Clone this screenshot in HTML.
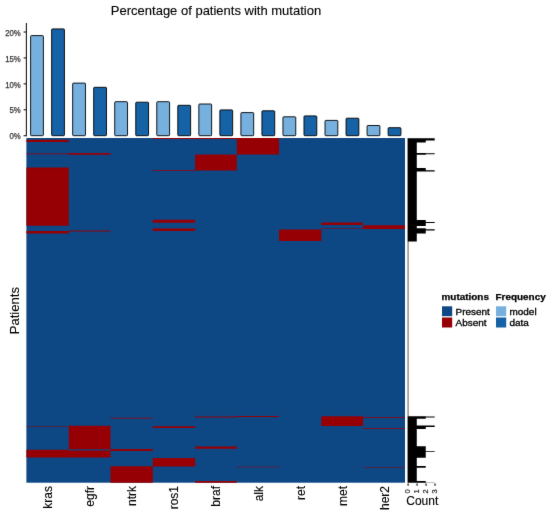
<!DOCTYPE html><html><head><meta charset="utf-8"><title>Percentage of patients with mutation</title>
<style>html,body{margin:0;padding:0;background:#fff;}svg{display:block;}text{font-family:"Liberation Sans",Arial,sans-serif;}</style></head><body>
<svg width="550" height="514" viewBox="0 0 550 514">
<defs><filter id="soft" x="0" y="0" width="550" height="514" filterUnits="userSpaceOnUse" color-interpolation-filters="sRGB"><feConvolveMatrix order="3" kernelMatrix="0.00524 0.06192 0.00524 0.06192 0.73137 0.06192 0.00524 0.06192 0.00524" edgeMode="duplicate"/></filter></defs>
<g filter="url(#soft)">
<rect x="0" y="0" width="550" height="514" fill="#fff"/>
<text x="216" y="15.3" font-size="13" text-anchor="middle" fill="#000" stroke="#000" stroke-width="0.12">Percentage of patients with mutation</text>
<g stroke="#1a1a1a" stroke-width="1.1" fill="none">
<line x1="26.4" y1="23" x2="26.4" y2="136.2"/>
<line x1="23.6" y1="135.70" x2="26.4" y2="135.70"/>
<line x1="23.6" y1="109.78" x2="26.4" y2="109.78"/>
<line x1="23.6" y1="83.86" x2="26.4" y2="83.86"/>
<line x1="23.6" y1="57.94" x2="26.4" y2="57.94"/>
<line x1="23.6" y1="32.02" x2="26.4" y2="32.02"/>
</g>
<text x="20.8" y="139.40" font-size="9" text-anchor="end" fill="#333" stroke="#333" stroke-width="0.25" textLength="11.3" lengthAdjust="spacingAndGlyphs">0%</text>
<text x="20.8" y="113.48" font-size="9" text-anchor="end" fill="#333" stroke="#333" stroke-width="0.25" textLength="11.3" lengthAdjust="spacingAndGlyphs">5%</text>
<text x="20.8" y="87.56" font-size="9" text-anchor="end" fill="#333" stroke="#333" stroke-width="0.25" textLength="15.6" lengthAdjust="spacingAndGlyphs">10%</text>
<text x="20.8" y="61.64" font-size="9" text-anchor="end" fill="#333" stroke="#333" stroke-width="0.25" textLength="15.6" lengthAdjust="spacingAndGlyphs">15%</text>
<text x="20.8" y="35.72" font-size="9" text-anchor="end" fill="#333" stroke="#333" stroke-width="0.25" textLength="15.6" lengthAdjust="spacingAndGlyphs">20%</text>
<rect x="30.60" y="35.60" width="12.8" height="100.10" fill="#76b0df" stroke="#000" stroke-width="0.9" rx="0.8"/>
<rect x="51.63" y="28.90" width="12.8" height="106.80" fill="#1662a6" stroke="#000" stroke-width="0.9" rx="0.8"/>
<rect x="72.66" y="83.10" width="12.8" height="52.60" fill="#76b0df" stroke="#000" stroke-width="0.9" rx="0.8"/>
<rect x="93.69" y="87.30" width="12.8" height="48.40" fill="#1662a6" stroke="#000" stroke-width="0.9" rx="0.8"/>
<rect x="114.72" y="101.70" width="12.8" height="34.00" fill="#76b0df" stroke="#000" stroke-width="0.9" rx="0.8"/>
<rect x="135.75" y="102.20" width="12.8" height="33.50" fill="#1662a6" stroke="#000" stroke-width="0.9" rx="0.8"/>
<rect x="156.78" y="101.70" width="12.8" height="34.00" fill="#76b0df" stroke="#000" stroke-width="0.9" rx="0.8"/>
<rect x="177.81" y="105.30" width="12.8" height="30.40" fill="#1662a6" stroke="#000" stroke-width="0.9" rx="0.8"/>
<rect x="198.84" y="104.00" width="12.8" height="31.70" fill="#76b0df" stroke="#000" stroke-width="0.9" rx="0.8"/>
<rect x="219.87" y="109.90" width="12.8" height="25.80" fill="#1662a6" stroke="#000" stroke-width="0.9" rx="0.8"/>
<rect x="240.90" y="112.60" width="12.8" height="23.10" fill="#76b0df" stroke="#000" stroke-width="0.9" rx="0.8"/>
<rect x="261.93" y="110.80" width="12.8" height="24.90" fill="#1662a6" stroke="#000" stroke-width="0.9" rx="0.8"/>
<rect x="282.96" y="116.80" width="12.8" height="18.90" fill="#76b0df" stroke="#000" stroke-width="0.9" rx="0.8"/>
<rect x="303.99" y="115.90" width="12.8" height="19.80" fill="#1662a6" stroke="#000" stroke-width="0.9" rx="0.8"/>
<rect x="325.02" y="120.40" width="12.8" height="15.30" fill="#76b0df" stroke="#000" stroke-width="0.9" rx="0.8"/>
<rect x="346.05" y="118.20" width="12.8" height="17.50" fill="#1662a6" stroke="#000" stroke-width="0.9" rx="0.8"/>
<rect x="367.08" y="125.50" width="12.8" height="10.20" fill="#76b0df" stroke="#000" stroke-width="0.9" rx="0.8"/>
<rect x="388.11" y="127.70" width="12.8" height="8.00" fill="#1662a6" stroke="#000" stroke-width="0.9" rx="0.8"/>
<rect x="26.4" y="138.0" width="378.60" height="344.70" fill="#0d4784"/>
<path fill="#960004" d="M152.80,138.00H195.10V139.10H152.80ZM195.10,138.00H236.80V139.10H195.10ZM236.80,138.00H279.00V154.40H236.80ZM26.40,139.70H68.80V142.00H26.40ZM26.40,153.50H68.80V154.20H26.40ZM68.80,153.10H110.50V154.70H68.80ZM195.10,154.50H236.80V170.60H195.10ZM152.80,170.30H195.10V171.00H152.80ZM26.40,167.60H68.80V225.80H26.40ZM152.80,219.70H195.10V222.80H152.80ZM321.30,222.40H363.00V225.10H321.30ZM363.00,225.20H405.00V229.00H363.00ZM321.30,228.20H363.00V228.70H321.30ZM152.80,228.40H195.10V231.00H152.80ZM279.00,229.60H321.30V241.10H279.00ZM68.80,230.40H110.50V231.40H68.80ZM26.40,231.00H68.80V233.50H26.40ZM236.80,416.10H279.00V416.90H236.80ZM195.10,416.60H236.80V417.50H195.10ZM321.30,416.30H363.00V426.10H321.30ZM363.00,417.20H405.00V417.90H363.00ZM110.50,417.80H152.80V418.60H110.50ZM68.80,425.70H110.50V449.30H68.80ZM26.40,426.20H68.80V426.80H26.40ZM152.80,426.20H195.10V428.00H152.80ZM363.00,428.10H405.00V428.80H363.00ZM195.10,446.40H236.80V448.80H195.10ZM110.50,449.00H152.80V451.00H110.50ZM26.40,449.80H68.80V457.50H26.40ZM68.80,450.40H110.50V457.50H68.80ZM152.80,458.00H195.10V466.60H152.80ZM110.50,466.20H152.80V482.70H110.50ZM236.80,466.70H279.00V467.30H236.80ZM363.00,467.00H405.00V467.60H363.00ZM195.10,480.90H236.80V482.70H195.10Z"/>
<line x1="408.1" y1="138.0" x2="408.1" y2="482.7" stroke="#888" stroke-width="1.4"/>
<path d="M407.8,138.30 L434.71,138.30 L434.71,140.50 L425.74,140.50 L425.74,142.50 L416.77,142.50 L416.77,153.10 L425.74,153.10 L425.74,153.30 L434.71,153.30 L434.71,154.30 L425.74,154.30 L425.74,154.70 L416.77,154.70 L416.77,167.90 L425.74,167.90 L425.74,170.20 L434.71,170.20 L434.71,171.60 L416.77,171.60 L416.77,220.00 L425.74,220.00 L425.74,222.00 L434.71,222.00 L434.71,223.00 L425.74,223.00 L425.74,225.90 L416.77,225.90 L416.77,228.30 L425.74,228.30 L425.74,229.20 L434.71,229.20 L434.71,230.60 L425.74,230.60 L425.74,233.60 L416.77,233.60 L416.77,241.50 L407.8,241.50 Z" fill="#000"/>
<path d="M407.8,416.20 L425.74,416.20 L425.74,416.40 L434.71,416.40 L434.71,417.60 L425.74,417.60 L425.74,418.70 L416.77,418.70 L416.77,425.60 L434.71,425.60 L434.71,427.10 L425.74,427.10 L425.74,429.10 L416.77,429.10 L416.77,446.20 L425.74,446.20 L425.74,450.90 L434.71,450.90 L434.71,451.80 L425.74,451.80 L425.74,457.80 L416.77,457.80 L416.77,466.00 L425.74,466.00 L425.74,467.80 L416.77,467.80 L416.77,481.10 L425.74,481.10 L425.74,482.40 L434.71,482.40 L434.71,482.70 L407.8,482.70 Z" fill="#000"/>
<line x1="408.10" y1="483.5" x2="408.10" y2="485.7" stroke="#111" stroke-width="1.2"/>
<text transform="translate(410.40,491.3) rotate(-90)" font-size="7.6" text-anchor="middle" fill="#111" stroke="#111" stroke-width="0.15">0</text>
<line x1="417.07" y1="483.5" x2="417.07" y2="485.7" stroke="#111" stroke-width="1.2"/>
<text transform="translate(419.37,491.3) rotate(-90)" font-size="7.6" text-anchor="middle" fill="#111" stroke="#111" stroke-width="0.15">1</text>
<line x1="426.04" y1="483.5" x2="426.04" y2="485.7" stroke="#111" stroke-width="1.2"/>
<text transform="translate(428.34,491.3) rotate(-90)" font-size="7.6" text-anchor="middle" fill="#111" stroke="#111" stroke-width="0.15">2</text>
<line x1="435.01" y1="483.5" x2="435.01" y2="485.7" stroke="#111" stroke-width="1.2"/>
<text transform="translate(437.31,491.3) rotate(-90)" font-size="7.6" text-anchor="middle" fill="#111" stroke="#111" stroke-width="0.15">3</text>
<text x="422.3" y="504.6" font-size="12" text-anchor="middle" fill="#000" stroke="#000" stroke-width="0.12">Count</text>
<text transform="translate(51.80,486.0) scale(1.08,1) rotate(-90)" font-size="12" text-anchor="end" fill="#000" stroke="#000" stroke-width="0.12">kras</text>
<text transform="translate(93.85,486.0) scale(1.08,1) rotate(-90)" font-size="12" text-anchor="end" fill="#000" stroke="#000" stroke-width="0.12">egfr</text>
<text transform="translate(135.85,486.0) scale(1.08,1) rotate(-90)" font-size="12" text-anchor="end" fill="#000" stroke="#000" stroke-width="0.12">ntrk</text>
<text transform="translate(178.15,486.0) scale(1.08,1) rotate(-90)" font-size="12" text-anchor="end" fill="#000" stroke="#000" stroke-width="0.12">ros1</text>
<text transform="translate(220.15,486.0) scale(1.08,1) rotate(-90)" font-size="12" text-anchor="end" fill="#000" stroke="#000" stroke-width="0.12">braf</text>
<text transform="translate(262.50,486.0) scale(1.08,1) rotate(-90)" font-size="12" text-anchor="end" fill="#000" stroke="#000" stroke-width="0.12">alk</text>
<text transform="translate(304.75,486.0) scale(1.08,1) rotate(-90)" font-size="12" text-anchor="end" fill="#000" stroke="#000" stroke-width="0.12">ret</text>
<text transform="translate(346.75,486.0) scale(1.08,1) rotate(-90)" font-size="12" text-anchor="end" fill="#000" stroke="#000" stroke-width="0.12">met</text>
<text transform="translate(388.60,486.0) scale(1.08,1) rotate(-90)" font-size="12" text-anchor="end" fill="#000" stroke="#000" stroke-width="0.12">her2</text>
<text transform="translate(18.5,310.65) rotate(-90)" font-size="13.0" textLength="47.2" lengthAdjust="spacingAndGlyphs" text-anchor="middle" fill="#000" stroke="#000" stroke-width="0.12">Patients</text>
<text x="441.5" y="299.9" font-size="8.8" font-weight="bold" fill="#000" stroke="#000" stroke-width="0.25" textLength="47.4" lengthAdjust="spacingAndGlyphs">mutations</text>
<text x="495.5" y="299.9" font-size="8.8" font-weight="bold" fill="#000" stroke="#000" stroke-width="0.25" textLength="50.2" lengthAdjust="spacingAndGlyphs">Frequency</text>
<rect x="442" y="306.3" width="10.2" height="9.9" fill="#0d4784"/>
<rect x="442" y="317.5" width="10.2" height="10" fill="#960004"/>
<rect x="496" y="306.3" width="10.2" height="9.9" fill="#76b0df"/>
<rect x="496" y="317.5" width="10.2" height="10" fill="#1662a6"/>
<text x="455.5" y="314.9" font-size="8.7" fill="#000" stroke="#000" stroke-width="0.3" textLength="34.3" lengthAdjust="spacingAndGlyphs">Present</text>
<text x="455.5" y="325.8" font-size="8.7" fill="#000" stroke="#000" stroke-width="0.3" textLength="31.0" lengthAdjust="spacingAndGlyphs">Absent</text>
<text x="509.5" y="314.9" font-size="8.7" fill="#000" stroke="#000" stroke-width="0.3" textLength="27.1" lengthAdjust="spacingAndGlyphs">model</text>
<text x="509.5" y="325.8" font-size="8.7" fill="#000" stroke="#000" stroke-width="0.3" textLength="19.4" lengthAdjust="spacingAndGlyphs">data</text>
</g></svg></body></html>
